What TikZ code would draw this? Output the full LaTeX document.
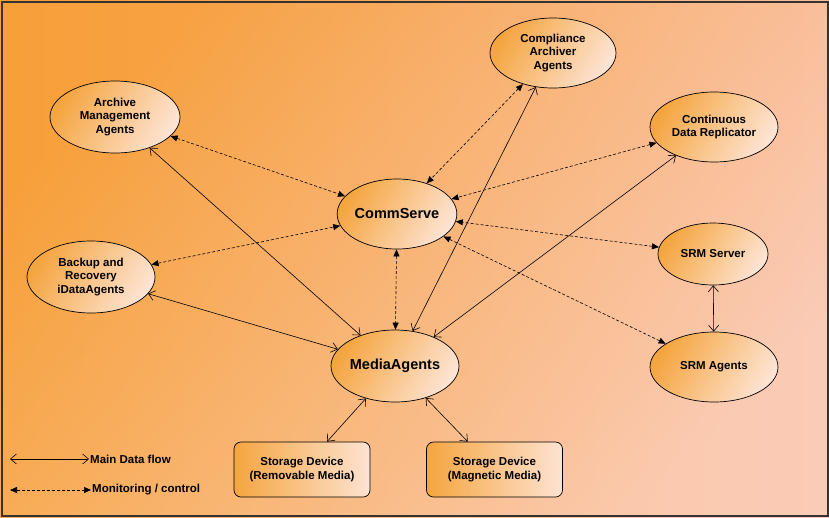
\documentclass[tikz,border=0pt]{standalone}
\usepackage{fontspec}
\setmainfont{Liberation Sans}
\usetikzlibrary{shapes.geometric,arrows.meta}
\definecolor{bgA}{HTML}{F7A03A}
\definecolor{bgB}{HTML}{F8B08E}
\definecolor{bgC}{HTML}{FDE6E0}
\definecolor{elA}{HTML}{F5A540}
\definecolor{elB}{HTML}{FDE3D2}
\begin{document}
\begin{tikzpicture}[x=1pt,y=-1pt,
  ell/.style={ellipse,draw=black,line width=0.7pt,left color=elA,right color=elB,shading angle=60,
    font=\bfseries\fontsize{11.5}{13.5}\selectfont,align=center,inner sep=0pt},
  box/.style={rectangle,rounded corners=7pt,draw=black,line width=0.7pt,left color=elA,right color=elB,
    font=\bfseries\fontsize{11.5}{13.5}\selectfont,align=center,minimum width=136pt,minimum height=55pt},
  main/.style={line width=0.6pt,{Straight Barb[length=6pt,width=10pt]}-{Straight Barb[length=6pt,width=10pt]}},
  mon/.style={line width=0.6pt,dashed,dash pattern=on 3pt off 2pt,{Triangle[length=7pt,width=6pt]}-{Triangle[length=7pt,width=6pt]}}]
\useasboundingbox (0,0) rectangle (829,517);
\shade[left color=bgA,right color=bgB] (0,0) rectangle (829,517);
\shade[top color=bgA,bottom color=bgC,shading angle=45,opacity=0.5] (0,0) rectangle (829,517);
\draw[line width=2pt,black!80] (1.5,1.5) rectangle (827.5,515.5);
\node[ell,minimum width=130pt,minimum height=72pt] (am) at (115,117) {Archive\\Management\\Agents};
\node[ell,minimum width=126pt,minimum height=70pt] (ca) at (553,53) {Compliance\\Archiver\\Agents};
\node[ell,minimum width=128pt,minimum height=70pt] (cdr) at (714,127) {Continuous\\Data Replicator};
\node[ell,minimum width=118pt,minimum height=70pt,font=\bfseries\fontsize{14.5}{16}\selectfont] (cs) at (397,214) {CommServe};
\node[ell,minimum width=128pt,minimum height=72pt] (br) at (91,277) {Backup and\\Recovery\\iDataAgents};
\node[ell,minimum width=110pt,minimum height=62pt] (srms) at (713,254) {SRM Server};
\node[ell,minimum width=128pt,minimum height=72pt,font=\bfseries\fontsize{14.5}{16}\selectfont] (ma) at (395,366) {MediaAgents};
\node[ell,minimum width=128pt,minimum height=70pt] (srma) at (714,367) {SRM Agents};
\node[box] (sd1) at (302,469.5) {Storage Device\\(Removable Media)};
\node[box] (sd2) at (494.5,469.5) {Storage Device\\(Magnetic  Media)};
\draw[main] (am) -- (ma);
\draw[main] (br) -- (ma);
\draw[main] (ca) -- (ma);
\draw[main] (cdr) -- (ma);
\draw[main] (ma) -- (sd1);
\draw[main] (ma) -- (sd2);
\draw[main] (srms) -- (srma);
\draw[mon] (am) -- (cs);
\draw[mon] (ca) -- (cs);
\draw[mon] (cdr) -- (cs);
\draw[mon] (br) -- (cs);
\draw[mon] (srms) -- (cs);
\draw[mon] (srma) -- (cs);
\draw[mon] (cs) -- (ma);
\coordinate (l1a) at (10,459); \coordinate (l1b) at (89,459);
\coordinate (l2a) at (10,490); \coordinate (l2b) at (91,490);
\draw[main] (l1a) -- (l1b);
\draw[mon] (l2a) -- (l2b);
\node[anchor=west,font=\bfseries\fontsize{11.5}{13.5}\selectfont,inner sep=1pt] (t1) at (l1b) {Main Data flow};
\node[anchor=west,font=\bfseries\fontsize{11.5}{13.5}\selectfont,inner sep=1pt] (t2) at (l2b) {Monitoring / control};
\end{tikzpicture}
\end{document}
